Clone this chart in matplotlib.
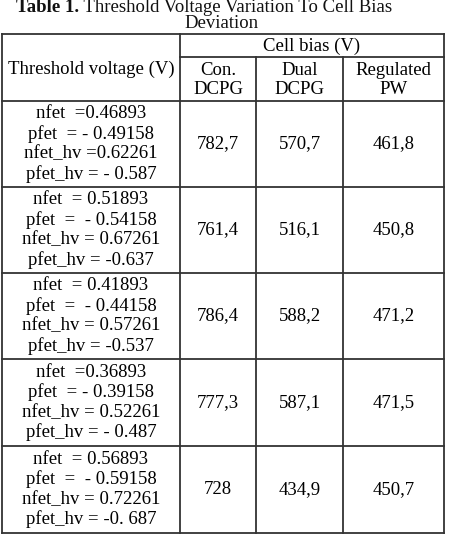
import matplotlib
matplotlib.use("Agg")
import matplotlib.pyplot as plt

title_bold = "Table 1."
title_rest = " Threshold Voltage Variation To Cell Bias"
title2 = "Deviation"
row_header = "Threshold voltage (V)"
group_header = "Cell bias (V)"
col_labels = ["Con.\nDCPG", "Dual\nDCPG", "Regulated\nPW"]
thresholds = [
    "nfet  =0.46893\npfet  = - 0.49158\nnfet_hv =0.62261\npfet_hv = - 0.587",
    "nfet  = 0.51893\npfet  =  - 0.54158\nnfet_hv = 0.67261\npfet_hv = -0.637",
    "nfet  = 0.41893\npfet  =  - 0.44158\nnfet_hv = 0.57261\npfet_hv = -0.537",
    "nfet  =0.36893\npfet  = - 0.39158\nnfet_hv = 0.52261\npfet_hv = - 0.487",
    "nfet  = 0.56893\npfet  =  - 0.59158\nnfet_hv = 0.72261\npfet_hv = -0. 687",
]
con_dcpg = ["782,7", "761,4", "786,4", "777,3", "728"]
dual_dcpg = ["570,7", "516,1", "588,2", "587,1", "434,9"]
regulated_pw = ["461,8", "450,8", "471,2", "471,5", "450,7"]

W, H = 474, 547
fig = plt.figure(figsize=(W/100, H/100), dpi=100)
ax = fig.add_axes([0, 0, 1, 1])
ax.set_xlim(0, W); ax.set_ylim(H, 0); ax.axis("off")
plt.rcParams['font.family'] = ['Liberation Serif', 'DejaVu Serif']
fs = 13.5

xs = [2, 180, 256, 343, 444]
ys = [34, 57, 101, 187, 273, 359, 446, 533]
lw = 1.3
c = "#333333"
for y in [34, 101, 187, 273, 359, 446, 533]:
    ax.plot([xs[0], xs[-1]], [y, y], color=c, lw=lw)
ax.plot([xs[1], xs[-1]], [57, 57], color=c, lw=lw)
ax.plot([xs[0], xs[0]], [34, 533], color=c, lw=lw)
ax.plot([xs[-1], xs[-1]], [34, 533], color=c, lw=lw)
ax.plot([xs[1], xs[1]], [34, 533], color=c, lw=lw)
for x in xs[2:4]:
    ax.plot([x, x], [57, 533], color=c, lw=lw)

t = ax.text(16, 7, title_bold, ha="left", va="center", fontsize=13.5, fontweight="bold", color="#111")
ax.annotate(title_rest, xycoords=t, xy=(1, 0.5), va="center", ha="left", fontsize=13.5, color="#111")
ax.text(222, 24, title2, ha="center", va="center", fontsize=13.5, color="#111")

ax.text((xs[0]+xs[1])/2, 69, row_header, ha="center", va="center", fontsize=fs)
ax.text((xs[1]+xs[-1])/2, 46, group_header, ha="center", va="center", fontsize=fs)
for i, lab in enumerate(col_labels):
    ax.text((xs[i+1]+xs[i+2])/2, 80, lab, ha="center", va="center", fontsize=fs, linespacing=1.15)

for r in range(5):
    yc = (ys[r+2] + ys[r+3]) / 2
    ax.text((xs[0]+xs[1])/2, yc, thresholds[r], ha="center", va="center", fontsize=fs, linespacing=1.2)
    for j, col in enumerate([con_dcpg, dual_dcpg, regulated_pw]):
        ax.text((xs[j+1]+xs[j+2])/2, yc, col[r], ha="center", va="center", fontsize=fs)

fig.savefig("out.png", dpi=100)
